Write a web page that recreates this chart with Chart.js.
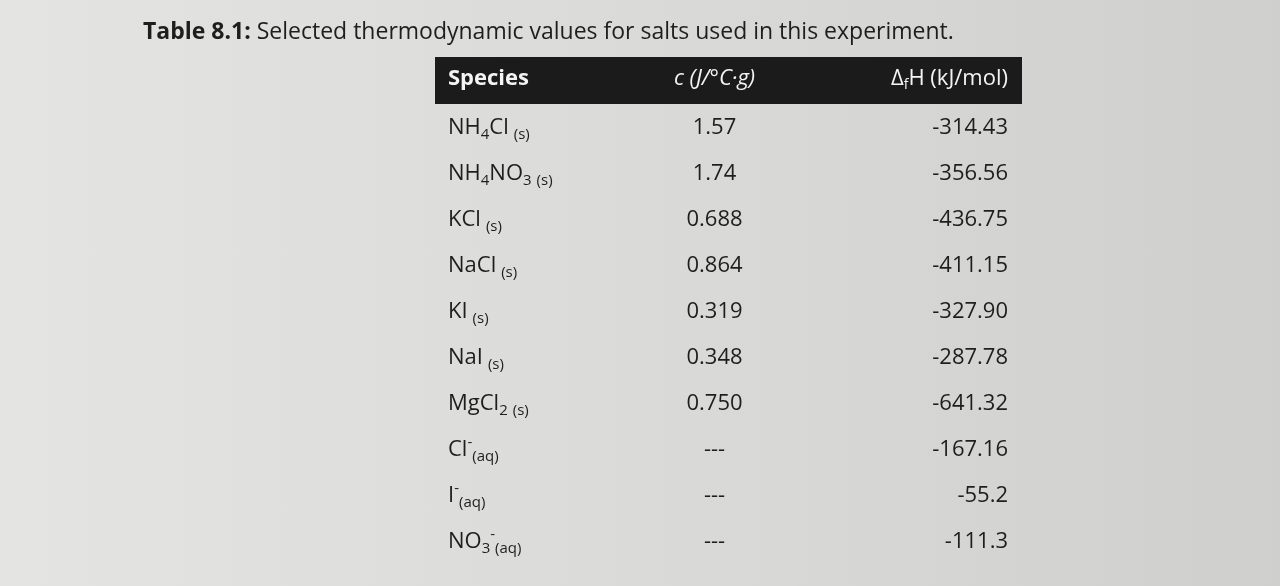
<!DOCTYPE html>
<html><head><meta charset="utf-8">
<script src="https://cdn.jsdelivr.net/npm/chart.js@4"></script>
<style>
html,body{margin:0;padding:0;background:#d9d9d7;}
#wrap{width:1280px;height:586px;position:relative;background:linear-gradient(90deg,#e4e4e2,#d8d8d6 60%,#cfcfcd);}
</style></head><body>
<div id="wrap"><canvas id="c" width="1280" height="586"></canvas></div>
<script>
const title = 'Table 8.1:';
const titleRest = ' Selected thermodynamic values for salts used in this experiment.';
const columns = ['Species', 'c (J/°C·g)', 'ΔfH (kJ/mol)'];
const species = ['NH4Cl (s)','NH4NO3 (s)','KCl (s)','NaCl (s)','KI (s)','NaI (s)','MgCl2 (s)','Cl-(aq)','I-(aq)','NO3-(aq)'];
const heatCap = ['1.57','1.74','0.688','0.864','0.319','0.348','0.750','---','---','---'];
const enthalpy = ['-314.43','-356.56','-436.75','-411.15','-327.90','-287.78','-641.32','-167.16','-55.2','-111.3'];

const FONT = '"Open Sans", "Noto Sans", sans-serif';
function drawChem(ctx, s, x, y){
  let i=0; ctx.textAlign='left';
  const big='22px '+FONT, small='15px '+FONT;
  while(i<s.length){
    const ch=s[i];
    if(ch===' '){x+=5;i++;continue;}
    if(ch==='('){const j=s.indexOf(')',i);const t=s.slice(i,j+1);ctx.font=small;ctx.fillText(t,x,y+5);x+=ctx.measureText(t).width;i=j+1;continue;}
    if(ch==='-'){ctx.font=small;ctx.fillText('-',x,y-9);x+=ctx.measureText('-').width;i++;continue;}
    if(/[0-9]/.test(ch)){ctx.font=small;ctx.fillText(ch,x,y+5);x+=ctx.measureText(ch).width;i++;continue;}
    ctx.font=big;ctx.fillText(ch,x,y);x+=ctx.measureText(ch).width;i++;
  }
}
const tablePlugin = {
  id:'table',
  afterDraw(chart){
    const ctx=chart.ctx, xs=chart.scales.x, ys=chart.scales.y;
    const left=xs.left, right=xs.right;
    ctx.save();
    ctx.textBaseline='alphabetic'; ctx.fillStyle='#1e1e1e';
    ctx.font='bold 23px '+FONT; ctx.textAlign='left';
    ctx.fillText(title,143,39);
    const tw=ctx.measureText(title).width;
    ctx.font='23px '+FONT; ctx.fillText(titleRest,143+tw,39);
    const hTop=57,hBot=104;
    ctx.fillStyle='#1b1b1b'; ctx.fillRect(left,hTop,right-left,hBot-hTop);
    ctx.fillStyle='#f4f4f4'; ctx.font='bold 22px '+FONT;
    const hy=85;
    ctx.textAlign='left'; ctx.fillText(columns[0],left+13,hy);
    ctx.font='italic 22px '+FONT; ctx.textAlign='center';
    ctx.fillText(columns[1],xs.getPixelForValue(1)-14,hy);
    const rx=right-14;
    const p1='Δ',p2='f',p3='H (kJ/mol)';
    ctx.font='22px '+FONT;const w1=ctx.measureText(p1).width,w3=ctx.measureText(p3).width;
    ctx.font='14px '+FONT;const w2=ctx.measureText(p2).width;
    let x=rx-w1-w2-w3; ctx.textAlign='left';
    ctx.font='22px '+FONT;ctx.fillText(p1,x,hy);x+=w1;
    ctx.font='14px '+FONT;ctx.fillText(p2,x,hy+4);x+=w2;
    ctx.font='22px '+FONT;ctx.fillText(p3,x,hy);
    ctx.fillStyle='#1e1e1e';
    species.forEach((s,i)=>{
      const y=ys.getPixelForValue(i)+8;
      drawChem(ctx,s,left+13,y);
      ctx.font='22px '+FONT;
      ctx.textAlign='center'; ctx.fillText(heatCap[i],xs.getPixelForValue(1)-14,y);
      ctx.textAlign='right'; ctx.fillText(enthalpy[i],rx,y);
    });
    ctx.restore();
  }
};
new Chart(document.getElementById('c'),{
  type:'scatter',
  data:{datasets:[{data:[],pointRadius:0}]},
  options:{
    responsive:false,animation:false,
    layout:{padding:{left:435,right:258,top:103,bottom:23}},
    plugins:{legend:{display:false},tooltip:{enabled:false}},
    scales:{
      x:{type:'category',labels:columns,offset:true,display:false},
      y:{type:'category',labels:species,offset:true,display:false}
    }
  },
  plugins:[tablePlugin]
});
</script>
</body></html>
